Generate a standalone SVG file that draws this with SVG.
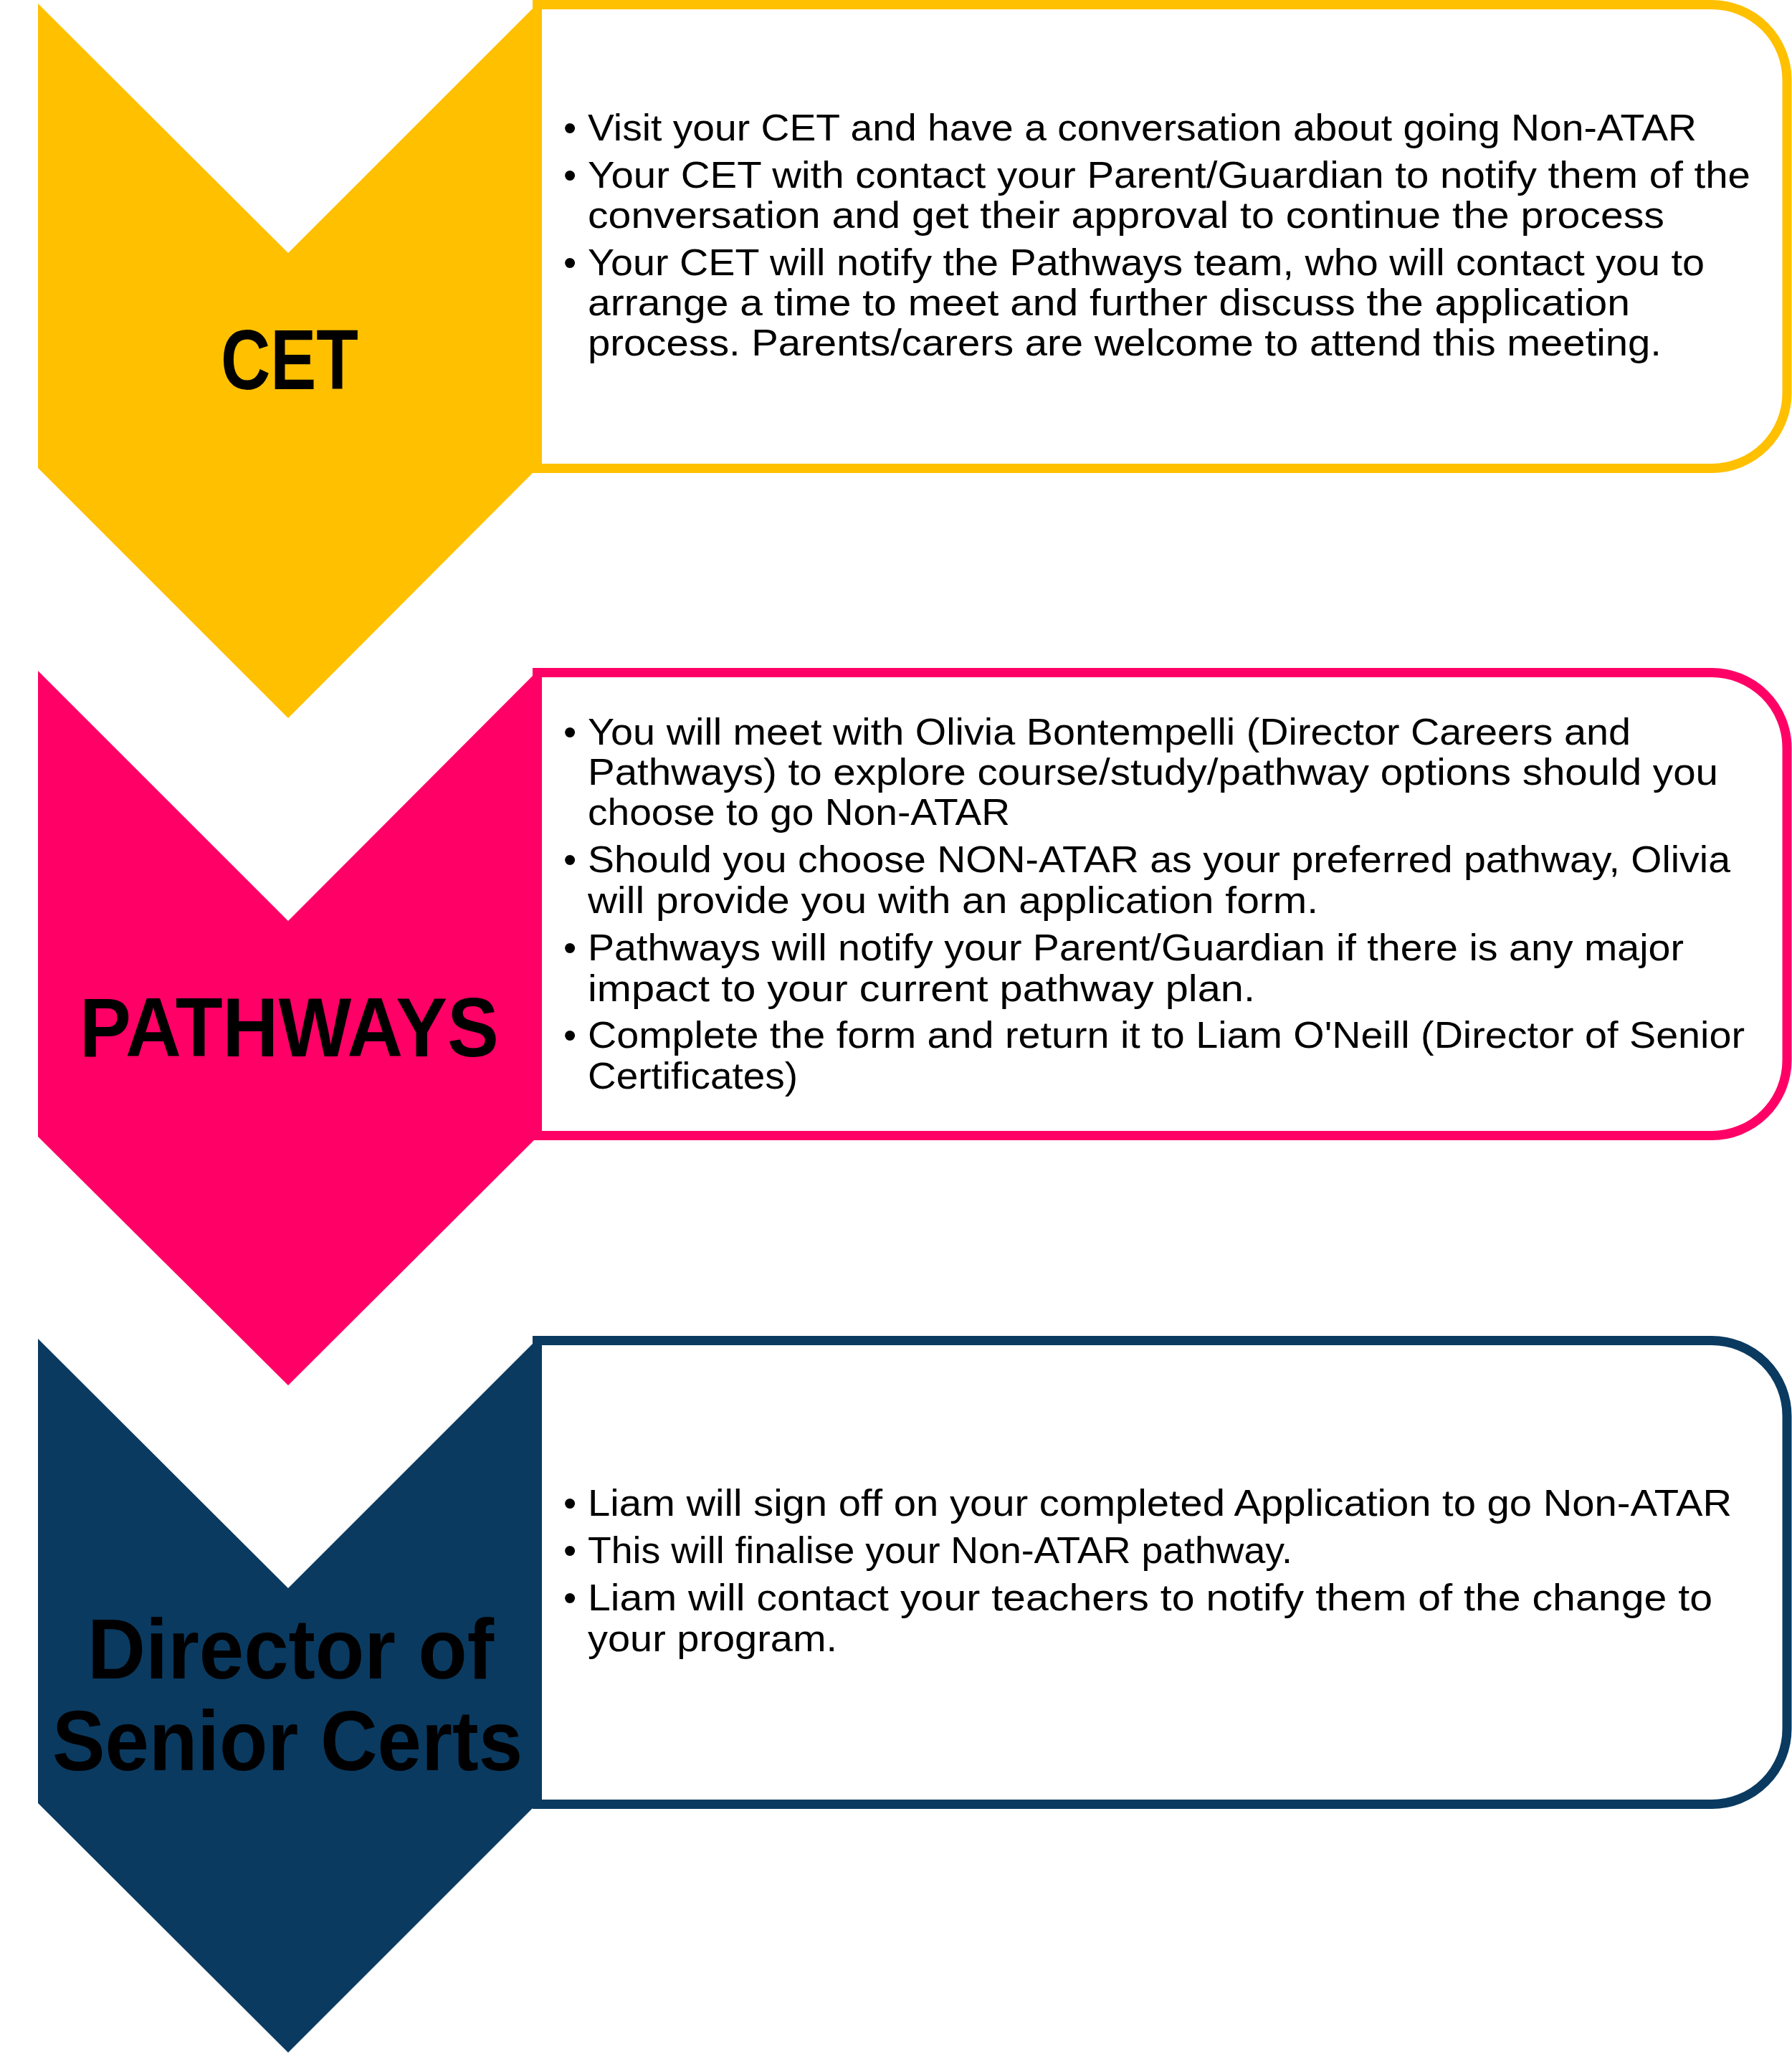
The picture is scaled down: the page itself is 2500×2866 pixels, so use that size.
<svg xmlns="http://www.w3.org/2000/svg" width="2500" height="2866" viewBox="0 0 2500 2866">
<style>
.box{fill:#FFFFFF;stroke-width:13}
.lbl{font-family:"Century Gothic","Liberation Sans","DejaVu Sans",sans-serif;font-weight:bold;font-size:118px;fill:#000000}
.lbl2{font-family:"Gill Sans MT","Liberation Sans","DejaVu Sans",sans-serif;font-weight:bold;font-size:117px;fill:#000000}
.txt{font-family:"Century Gothic","Liberation Sans","DejaVu Sans",sans-serif;font-size:52px;fill:#000000}
.bul{font-family:"Liberation Sans","DejaVu Sans",sans-serif;font-size:52px;fill:#000000}
</style>
<rect x="0" y="0" width="2500" height="2866" fill="#FFFFFF"/>
<g id="connectors"/>
<g id="node-cet">
<path class="box" stroke="#FFC000" d="M749.5,6.5 H2388 A105,105 0 0 1 2493,111.5 V548.5 A105,105 0 0 1 2388,653.5 H749.5 Z"/>
<polygon fill="#FFC000" points="53,5 402,353 750,5 750,653 402,1002 53,653"/>
<text class="lbl" x="308" y="543" textLength="192" lengthAdjust="spacingAndGlyphs">CET</text>
<text class="bul" x="786" y="196">•</text>
<text class="bul" x="786" y="262">•</text>
<text class="bul" x="786" y="384">•</text>
<text class="txt" x="820" y="196" textLength="1547" lengthAdjust="spacingAndGlyphs">Visit your CET and have a conversation about going Non-ATAR</text>
<text class="txt" x="820" y="262" textLength="1622" lengthAdjust="spacingAndGlyphs">Your CET with contact your Parent/Guardian to notify them of the</text>
<text class="txt" x="820" y="318" textLength="1502" lengthAdjust="spacingAndGlyphs">conversation and get their approval to continue the process</text>
<text class="txt" x="820" y="384" textLength="1558" lengthAdjust="spacingAndGlyphs">Your CET will notify the Pathways team, who will contact you to</text>
<text class="txt" x="820" y="440" textLength="1454" lengthAdjust="spacingAndGlyphs">arrange a time to meet and further discuss the application</text>
<text class="txt" x="820" y="496" textLength="1498" lengthAdjust="spacingAndGlyphs">process. Parents/carers are welcome to attend this meeting.</text>
</g>
<g id="node-pathways">
<path class="box" stroke="#FF0066" d="M749.5,938.5 H2388 A105,105 0 0 1 2493,1043.5 V1479.5 A105,105 0 0 1 2388,1584.5 H749.5 Z"/>
<polygon fill="#FF0066" points="53,936 402,1285 750,936 750,1586 402,1933 53,1586"/>
<text class="lbl2" x="111" y="1474" textLength="585" lengthAdjust="spacingAndGlyphs">PATHWAYS</text>
<text class="bul" x="786" y="1039">•</text>
<text class="bul" x="786" y="1217">•</text>
<text class="bul" x="786" y="1340">•</text>
<text class="bul" x="786" y="1462">•</text>
<text class="txt" x="820" y="1039" textLength="1455" lengthAdjust="spacingAndGlyphs">You will meet with Olivia Bontempelli (Director Careers and</text>
<text class="txt" x="820" y="1095" textLength="1577" lengthAdjust="spacingAndGlyphs">Pathways) to explore course/study/pathway options should you</text>
<text class="txt" x="820" y="1151" textLength="589" lengthAdjust="spacingAndGlyphs">choose to go Non-ATAR</text>
<text class="txt" x="820" y="1217" textLength="1594" lengthAdjust="spacingAndGlyphs">Should you choose NON-ATAR as your preferred pathway, Olivia</text>
<text class="txt" x="820" y="1274" textLength="1019" lengthAdjust="spacingAndGlyphs">will provide you with an application form.</text>
<text class="txt" x="820" y="1340" textLength="1529" lengthAdjust="spacingAndGlyphs">Pathways will notify your Parent/Guardian if there is any major</text>
<text class="txt" x="820" y="1397" textLength="931" lengthAdjust="spacingAndGlyphs">impact to your current pathway plan.</text>
<text class="txt" x="820" y="1462" textLength="1614" lengthAdjust="spacingAndGlyphs">Complete the form and return it to Liam O'Neill (Director of Senior</text>
<text class="txt" x="820" y="1519" textLength="293" lengthAdjust="spacingAndGlyphs">Certificates)</text>
</g>
<g id="node-director">
<path class="box" stroke="#0A3A60" d="M749.5,1870.5 H2388 A105,105 0 0 1 2493,1975.5 V2412.5 A105,105 0 0 1 2388,2517.5 H749.5 Z"/>
<polygon fill="#0A3A60" points="53,1868 402,2216 750,1868 750,2516 402,2864 53,2516"/>
<text class="lbl" x="122" y="2342" textLength="567" lengthAdjust="spacingAndGlyphs">Director of</text>
<text class="lbl" x="73" y="2470" textLength="656" lengthAdjust="spacingAndGlyphs">Senior Certs</text>
<text class="bul" x="786" y="2115">•</text>
<text class="bul" x="786" y="2181">•</text>
<text class="bul" x="786" y="2247">•</text>
<text class="txt" x="820" y="2115" textLength="1596" lengthAdjust="spacingAndGlyphs">Liam will sign off on your completed Application to go Non-ATAR</text>
<text class="txt" x="820" y="2181" textLength="983" lengthAdjust="spacingAndGlyphs">This will finalise your Non-ATAR pathway.</text>
<text class="txt" x="820" y="2247" textLength="1569" lengthAdjust="spacingAndGlyphs">Liam will contact your teachers to notify them of the change to</text>
<text class="txt" x="820" y="2304" textLength="348" lengthAdjust="spacingAndGlyphs">your program.</text>
</g>
</svg>
